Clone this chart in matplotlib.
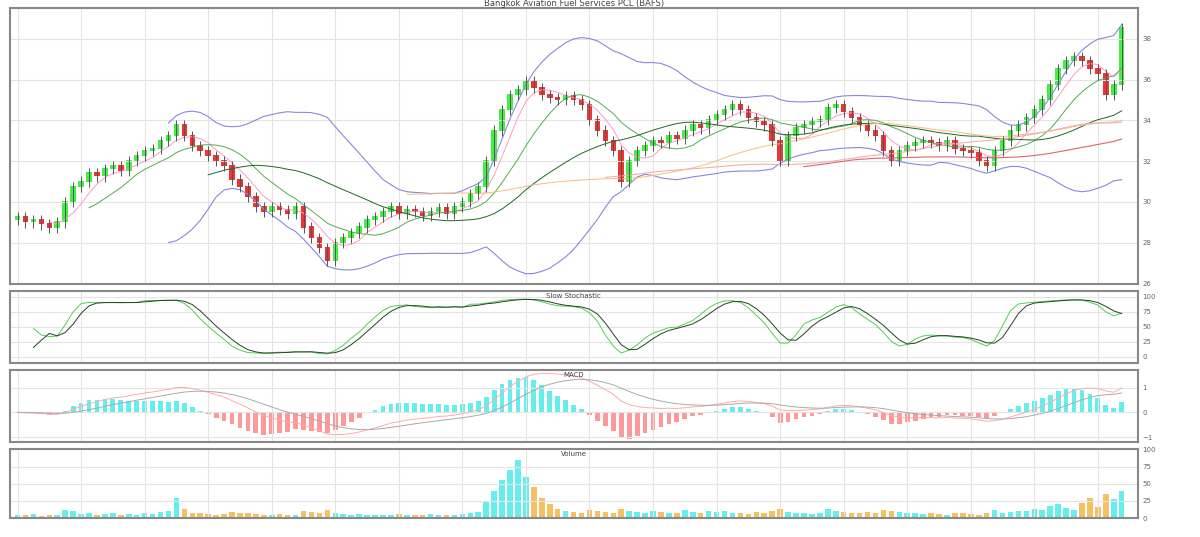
import numpy as np
import matplotlib
matplotlib.use("Agg")
import matplotlib.pyplot as plt

title = "Bangkok Aviation Fuel Services PCL (BAFS)"
closes = [29.25,29.0,29.1,28.9,28.75,29.0,30.0,30.75,31.0,31.4,31.25,31.6,31.75,31.5,32.0,32.25,32.5,32.6,
          33.0,33.25,33.75,33.25,32.75,32.5,32.25,32.0,31.75,31.1,30.75,30.25,29.75,29.5,29.75,29.6,29.4,29.75,
          28.75,28.25,27.75,27.1,28.0,28.25,28.5,28.75,29.1,29.25,29.5,29.75,29.4,29.6,29.5,29.3,29.5,29.7,29.4,
          29.75,30.0,30.4,30.75,32.0,33.5,34.5,35.25,35.5,35.9,35.6,35.25,35.1,35.0,35.2,35.0,34.75,34.0,33.5,
          33.0,32.5,31.0,32.0,32.5,32.75,33.0,32.9,33.25,33.1,33.5,33.75,33.6,34.0,34.25,34.5,34.75,34.5,34.1,
          33.9,33.75,33.0,32.0,33.25,33.6,33.75,33.9,34.0,34.6,34.75,34.4,34.1,33.75,33.5,33.25,32.5,32.0,32.5,
          32.75,32.9,33.0,32.9,32.75,33.0,32.6,32.5,32.4,32.0,31.75,32.5,33.0,33.5,33.75,34.1,34.5,35.0,35.75,
          36.5,36.9,37.1,36.9,36.5,36.25,35.25,35.75,38.5]
volumes = [5,4,6,3,4,5,12,10,6,8,5,6,7,4,6,5,8,6,9,10,30,14,8,7,6,5,6,9,8,7,6,5,4,6,5,4,
           10,9,8,12,7,6,5,6,5,4,5,4,6,5,4,5,6,5,4,5,6,7,9,25,40,55,70,85,60,45,30,20,14,10,9,8,
           12,10,9,8,14,10,9,8,11,9,8,7,12,9,8,10,9,11,8,7,6,9,8,10,14,9,8,7,6,8,13,10,9,8,
           7,9,8,12,10,9,7,8,6,7,6,5,7,8,6,5,7,12,8,9,10,11,14,12,18,20,15,12,22,30,16,35,28,40]

x = np.arange(len(closes))
c = np.array(closes, float)
o = np.r_[c[0], c[:-1]]
o[0] = 29.1
hi = np.maximum(o, c) + 0.25
lo = np.minimum(o, c) - 0.25
up = c >= o

def sma(a, n):
    out = np.full(len(a), np.nan)
    for i in range(n - 1, len(a)):
        out[i] = a[i - n + 1:i + 1].mean()
    return out

def ema(a, n):
    k = 2 / (n + 1); out = np.empty(len(a)); out[0] = a[0]
    for i in range(1, len(a)):
        out[i] = a[i] * k + out[i - 1] * (1 - k)
    return out

fig = plt.figure(figsize=(12, 5.37), dpi=100)
gs = fig.add_gridspec(4, 1, height_ratios=[280, 73, 73, 70], hspace=0.06,
                      left=0.008, right=0.948, top=0.985, bottom=0.035)
axs = [fig.add_subplot(gs[i]) for i in range(4)]
for a in axs:
    a.set_xlim(-1, len(c) + 1)
    a.grid(True, color="#e4e4e4", lw=0.8)
    a.yaxis.tick_right()
    a.tick_params(labelsize=5, colors="#666", length=0)
    for s in a.spines.values():
        s.set_color("#888"); s.set_linewidth(1.5)
    a.set_xticks(np.arange(0, len(c), 8))
    a.set_xticklabels([])

ax = axs[0]
m20 = sma(c, 20); sd = np.array([c[max(0, i - 19):i + 1].std() for i in range(len(c))])
ax.plot(x, m20 + 2 * sd, color="#8888dd", lw=0.8)
ax.plot(x, m20 - 2 * sd, color="#8888dd", lw=0.8)
ax.plot(x, sma(c, 5), color="#ff99cc", lw=0.7)
ax.plot(x, sma(c, 10), color="#55aa55", lw=0.7)
ax.plot(x, sma(c, 25), color="#226622", lw=0.7)
ax.plot(x, sma(c, 50), color="#f0c080", lw=0.7)
ax.plot(x, sma(c, 75), color="#f0b0b0", lw=0.8)
ax.plot(x, sma(c, 100), color="#dd6666", lw=0.8)
ax.vlines(x, lo, hi, color="#555", lw=0.7)
ax.bar(x, np.abs(c - o) + 0.05, bottom=np.minimum(o, c), width=0.7,
       color=np.where(up, "#44ee44", "#ee3333"))
ax.set_ylim(26, 39.5)
ax.set_title(title, fontsize=6, pad=1, color="#444")

ax = axs[1]
ll = np.array([lo[max(0, i - 13):i + 1].min() for i in range(len(c))])
hh = np.array([hi[max(0, i - 13):i + 1].max() for i in range(len(c))])
k = 100 * (c - ll) / (hh - ll)
ks = sma(np.nan_to_num(k), 3); ds = sma(np.nan_to_num(ks), 3)
ax.plot(x, ks, color="#55cc55", lw=0.7)
ax.plot(x, ds, color="#224422", lw=0.7)
ax.set_ylim(-10, 110)
ax.text(0.5, 0.97, "Slow Stochastic", transform=ax.transAxes, ha="center", va="top", fontsize=5, color="#444")

ax = axs[2]
macd = ema(c, 12) - ema(c, 26); sig = ema(macd, 9); h = macd - sig
ax.bar(x, h * 2, width=0.6, color=np.where(h >= 0, "#66eeee", "#ff9999"))
ax.plot(x, macd, color="#ffaaaa", lw=0.7)
ax.plot(x, sig, color="#aaaaaa", lw=0.7)
ax.text(0.5, 0.97, "MACD", transform=ax.transAxes, ha="center", va="top", fontsize=5, color="#444")

ax = axs[3]
vc = np.where(up, "#66eeee", "#f5c060")
ax.bar(x, volumes, width=0.7, color=vc)
ax.set_ylim(0, 100)
ax.text(0.5, 0.97, "Volume", transform=ax.transAxes, ha="center", va="top", fontsize=5, color="#444")

fig.savefig("out.png", dpi=100)
